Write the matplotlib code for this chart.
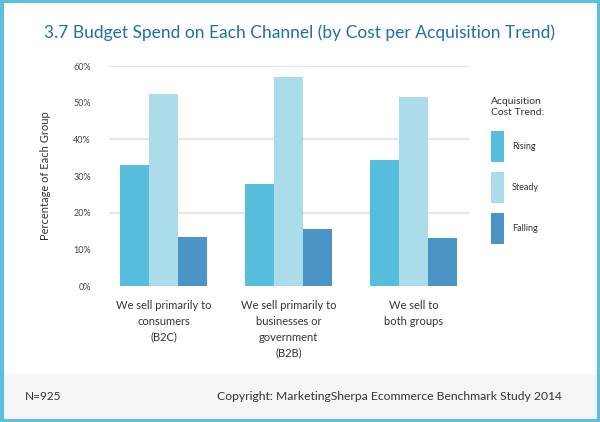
import numpy as np
import matplotlib.pyplot as plt
from matplotlib.patches import Rectangle

plt.rcParams['font.family'] = ['Lato', 'DejaVu Sans']

categories = ['We sell primarily to\nconsumers\n(B2C)',
              'We sell primarily to\nbusinesses or\ngovernment\n(B2B)',
              'We sell to\nboth groups']
series = ['Rising', 'Steady', 'Falling']
rising = [33.0, 27.8, 34.4]
steady = [52.4, 57.0, 51.6]
falling = [13.4, 15.5, 13.0]
colors = ['#56bddd', '#aadcea', '#4a95c6']

fig = plt.figure(figsize=(6, 4.22), dpi=100)

# footer band and border
fig.patches.append(Rectangle((0, 0), 1, 48/422, transform=fig.transFigure,
                             facecolor='#f5f5f5', edgecolor='none', zorder=0))
fig.patches.append(Rectangle((0.0025, 0.0035), 0.995, 0.993, transform=fig.transFigure,
                             facecolor='none', edgecolor='#5bc0de', linewidth=3, zorder=5))

ax = fig.add_axes([109/600, 1 - 286/422, 360/600, 220/422])
x = np.arange(len(categories))
w = 0.232
for i, (vals, name) in enumerate(zip([rising, steady, falling], series)):
    ax.bar(x + (i - 1) * w, vals, width=w, color=colors[i], label=name, zorder=3)

ax.set_ylim(0, 60)
ax.set_xlim(-0.436, 2.444)
ax.set_yticks(range(0, 61, 10))
ax.set_yticklabels([f'{v}%' for v in range(0, 61, 10)], fontsize=6.5, color='#444444')
for g in (20, 40, 60):
    ax.axhline(g, color='#e6e6e6', linewidth=1.6, zorder=1)
ax.set_xticks(x)
ax.set_xticklabels(categories, fontsize=8, color='#333333', linespacing=1.55)
ax.tick_params(length=0)
ax.tick_params(axis='y', pad=13)
ax.tick_params(axis='x', pad=10)
for s in ax.spines.values():
    s.set_visible(False)
ax.set_ylabel('Percentage of Each Group', fontsize=8, color='#333333', labelpad=16)

fig.text(0.5, 1 - 33/422, '3.7 Budget Spend on Each Channel (by Cost per Acquisition Trend)',
         ha='center', va='center', fontsize=12.5, color='#1f6fa8')

# legend
fig.text(491/600, 1 - 107/422, 'Acquisition\nCost Trend:', ha='left', va='center',
         fontsize=7.5, color='#333333', linespacing=1.4)
for i, name in enumerate(series):
    y0 = 131 + i * 41
    fig.patches.append(Rectangle((491/600, 1 - (y0 + 31)/422), 13/600, 31/422,
                                 transform=fig.transFigure, facecolor=colors[i], edgecolor='none'))
    fig.text(512/600, 1 - (y0 + 15.5)/422, name, ha='left', va='center', fontsize=6.5, color='#333333')

fig.text(25/600, 1 - 397/422, 'N=925', ha='left', va='center', fontsize=8.5, color='#333333')
fig.text(562/600, 1 - 397/422, 'Copyright: MarketingSherpa Ecommerce Benchmark Study 2014',
         ha='right', va='center', fontsize=8.7, color='#333333')

fig.savefig('out.png', dpi=100)
